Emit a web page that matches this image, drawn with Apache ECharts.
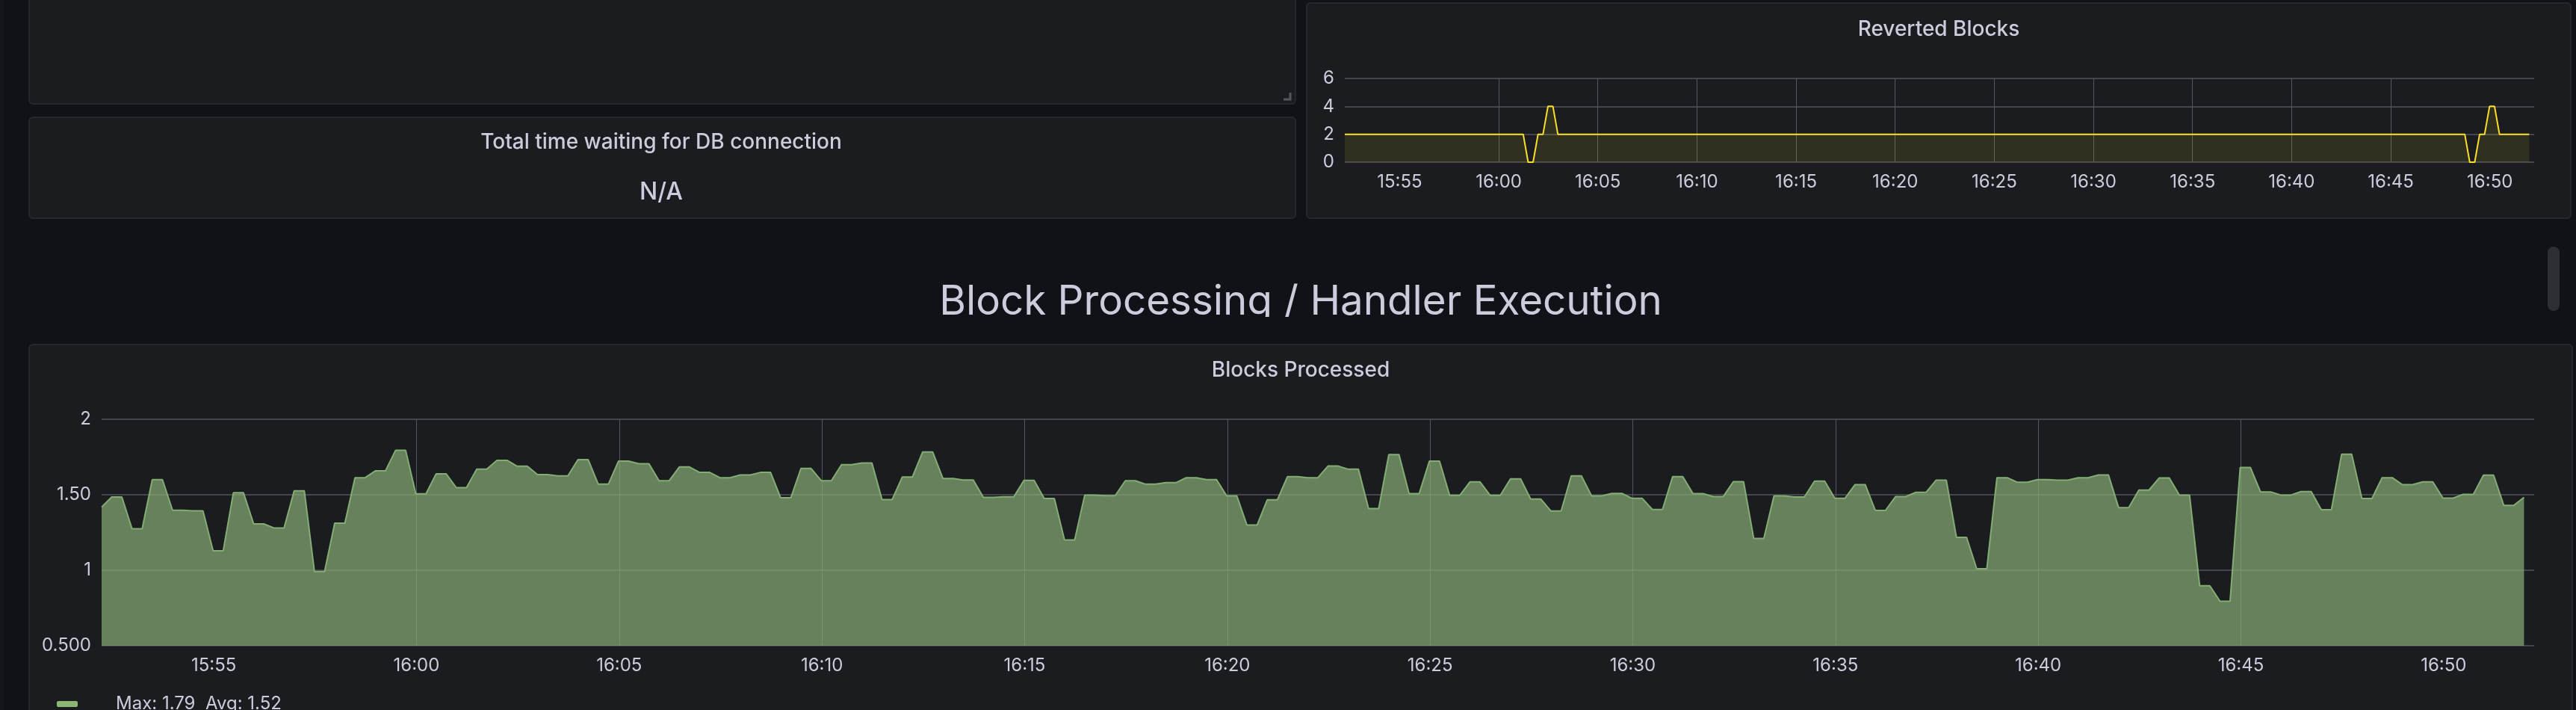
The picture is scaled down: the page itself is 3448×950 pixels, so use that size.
<!DOCTYPE html>
<html>
<head>
<meta charset="utf-8">
<title>Block Processing</title>
<script src="https://cdn.jsdelivr.net/npm/echarts@6/dist/echarts.min.js"></script>
<style>
html, body { margin: 0; padding: 0; background: #111217; overflow: hidden; }
#main { width: 3448px; height: 950px; }
</style>
</head>
<body>
<div id="main"></div>
<script>
// 15s samples over the last hour
var sectionTitle = 'Block Processing / Handler Execution';
var revertedTitle = 'Reverted Blocks';
var waitTitle = 'Total time waiting for DB connection';
var waitValue = 'N/A';
var processedTitle = 'Blocks Processed';
var processedLegend = 'Max: 1.79  Avg: 1.52';

var revertedValues = [
  2,2,2,2,2,2,2,2,2,2,2,2,2,2,2,2,2,2,2,2,
  2,2,2,2,2,2,2,2,2,2,2,2,2,2,2,2,2,0,0,2,
  2,4,4,2,2,2,2,2,2,2,2,2,2,2,2,2,2,2,2,2,
  2,2,2,2,2,2,2,2,2,2,2,2,2,2,2,2,2,2,2,2,
  2,2,2,2,2,2,2,2,2,2,2,2,2,2,2,2,2,2,2,2,
  2,2,2,2,2,2,2,2,2,2,2,2,2,2,2,2,2,2,2,2,
  2,2,2,2,2,2,2,2,2,2,2,2,2,2,2,2,2,2,2,2,
  2,2,2,2,2,2,2,2,2,2,2,2,2,2,2,2,2,2,2,2,
  2,2,2,2,2,2,2,2,2,2,2,2,2,2,2,2,2,2,2,2,
  2,2,2,2,2,2,2,2,2,2,2,2,2,2,2,2,2,2,2,2,
  2,2,2,2,2,2,2,2,2,2,2,2,2,2,2,2,2,2,2,2,
  2,2,2,2,2,2,2,0,0,2,2,4,4,2,2,2,2,2,2,2
];

var processedValues = [
  1.419,
  1.485,1.485, 1.275,1.275, 1.600,1.600, 1.397,1.397, 1.394,1.394,
  1.129,1.129, 1.513,1.513, 1.307,1.307, 1.280,1.280, 1.526,1.526,
  0.991,0.991, 1.312,1.312, 1.613,1.613, 1.658,1.658, 1.794,1.794,
  1.506,1.506, 1.638,1.638, 1.547,1.547, 1.669,1.669, 1.728,1.728,
  1.689,1.689, 1.634,1.634, 1.625,1.625, 1.733,1.733, 1.570,1.570,
  1.723,1.723, 1.705,1.705, 1.593,1.593, 1.684,1.684, 1.648,1.648,
  1.613,1.613, 1.631,1.631, 1.648,1.648, 1.480,1.480, 1.674,1.674,
  1.593,1.593, 1.699,1.699, 1.710,1.710, 1.468,1.468, 1.618,1.618,
  1.783,1.783, 1.608,1.608, 1.598,1.598, 1.483,1.483, 1.486,1.486,
  1.595,1.595, 1.475,1.475, 1.200,1.200, 1.498,1.498, 1.494,1.494,
  1.593,1.593, 1.570,1.570, 1.580,1.580, 1.613,1.613, 1.600,1.600,
  1.493,1.493, 1.299,1.299, 1.466,1.466, 1.620,1.620, 1.613,1.613,
  1.690,1.690, 1.669,1.669, 1.409,1.409, 1.766,1.766, 1.508,1.508,
  1.723,1.723, 1.496,1.496, 1.585,1.585, 1.496,1.496, 1.605,1.605,
  1.471,1.471, 1.392,1.392, 1.625,1.625, 1.493,1.493, 1.509,1.509,
  1.476,1.476, 1.402,1.402, 1.620,1.620, 1.508,1.508, 1.488,1.488,
  1.587,1.587, 1.211,1.211, 1.493,1.493, 1.485,1.485, 1.590,1.590,
  1.476,1.476, 1.567,1.567, 1.396,1.396, 1.488,1.488, 1.516,1.516,
  1.597,1.597, 1.218,1.218, 1.010,1.010, 1.613,1.613, 1.583,1.583,
  1.600,1.600, 1.597,1.597, 1.613,1.613, 1.631,1.631, 1.415,1.415,
  1.531,1.531, 1.611,1.611, 1.498,1.498, 0.897,0.897, 0.795,0.795,
  1.681,1.681, 1.519,1.519, 1.498,1.498, 1.521,1.521, 1.401,1.401,
  1.768,1.768, 1.475,1.475, 1.613,1.613, 1.567,1.567, 1.585,1.585,
  1.478,1.478, 1.503,1.503, 1.630,1.630, 1.430,1.430,
  1.483
];

var processedTickLabels = { 0.5: '0.500', 1: '1', 1.5: '1.50', 2: '2' };
var timeTickLabels = ['15:55','16:00','16:05','16:10','16:15','16:20','16:25','16:30','16:35','16:40','16:45','16:50'];

var at = function (hh, mm, ss) {
  return new Date(2023, 0, 1, hh, mm, ss).getTime();
};
var rangeStart = at(15, 52, 14);
var rangeEnd = rangeStart + 3600 * 1000;
var stepMs = 15000;

var timeTicks = timeTickLabels.map(function (label) {
  var parts = label.split(':');
  return at(+parts[0], +parts[1], 0);
});

var textColor = '#ccccdc';
var gridColor = '#45464b';
var vGridColor = '#55565b';
var panelBg = '#1a1c20';
var panelBorder = '#25272c';
var pageBg = '#111217';
var fontName = 'Inter';

var toPairs = function (values) {
  var res = [];
  for (var i = 0; i < values.length; i++) {
    res.push([rangeStart + i * stepMs, values[i]]);
  }
  return res;
};

var panel = function (x, y, w, h) {
  return {
    type: 'rect',
    z: -10,
    shape: { x: x, y: y, width: w, height: h, r: 5 },
    style: { fill: panelBg, stroke: panelBorder, lineWidth: 2 }
  };
};

// time axis ignores customValues here, so keep it as a plain value axis in ms
var makeXAxis = function (gridIndex) {
  return {
    type: 'value',
    gridIndex: gridIndex,
    min: rangeStart,
    max: rangeEnd,
    axisLine: { show: false },
    axisTick: { show: false, customValues: timeTicks },
    axisLabel: {
      color: textColor,
      fontFamily: fontName,
      fontSize: 24,
      margin: 15,
      customValues: timeTicks,
      hideOverlap: false,
      formatter: function (val) {
        return timeTickLabels[timeTicks.indexOf(val)];
      }
    },
    splitLine: {
      show: true,
      showMinLine: false,
      showMaxLine: false,
      lineStyle: { color: vGridColor, width: 1 }
    }
  };
};

var makeYAxis = function (gridIndex, min, max, interval, formatter) {
  return {
    type: 'value',
    gridIndex: gridIndex,
    min: min,
    max: max,
    interval: interval,
    axisLine: { show: false },
    axisTick: { show: false },
    axisLabel: {
      color: textColor,
      fontFamily: fontName,
      fontSize: 24,
      margin: 14,
      formatter: formatter
    },
    splitLine: { show: true, lineStyle: { color: gridColor, width: 2 } }
  };
};

var makeTitle = function (text, cx, top, size, weight) {
  return {
    text: text,
    left: cx,
    top: top,
    textAlign: 'center',
    padding: 0,
    textStyle: { color: textColor, fontFamily: fontName, fontSize: size, fontWeight: weight }
  };
};

var chart = echarts.init(document.getElementById('main'));

chart.setOption({
  animation: false,
  backgroundColor: pageBg,
  title: [
    makeTitle(revertedTitle, 2595, 26, 28, 500),
    makeTitle(waitTitle, 885, 177, 28, 500),
    makeTitle(waitValue, 885, 241, 32, 500),
    makeTitle(sectionTitle, 1741, 377, 54.7, 400),
    makeTitle(processedTitle, 1741, 482, 28, 500)
  ],
  grid: [
    { left: 1800, top: 105, width: 1592, height: 112, containLabel: false },
    { left: 136, top: 561, width: 3256, height: 303, containLabel: false }
  ],
  xAxis: [makeXAxis(0), makeXAxis(1)],
  yAxis: [
    makeYAxis(0, 0, 6, 2),
    makeYAxis(1, 0.5, 2, 0.5, function (val) { return processedTickLabels[val]; })
  ],
  legend: {
    show: true,
    left: 76,
    top: 930,
    padding: 0,
    icon: 'roundRect',
    itemWidth: 28,
    itemHeight: 8,
    data: [processedLegend],
    textStyle: {
      color: textColor,
      fontFamily: fontName,
      fontSize: 24,
      padding: [0, 0, 0, 46]
    }
  },
  series: [
    {
      name: revertedTitle,
      type: 'line',
      xAxisIndex: 0,
      yAxisIndex: 0,
      showSymbol: false,
      data: toPairs(revertedValues),
      lineStyle: { color: '#fade2a', width: 2 },
      itemStyle: { color: '#fade2a' },
      areaStyle: { color: '#fade2a', opacity: 0.1, origin: 'start' }
    },
    {
      name: processedLegend,
      type: 'line',
      xAxisIndex: 1,
      yAxisIndex: 1,
      showSymbol: false,
      data: toPairs(processedValues),
      lineStyle: { color: '#84ad73', width: 2 },
      itemStyle: { color: '#8ab872' },
      areaStyle: { color: '#89b077', opacity: 0.69, origin: 'start' }
    }
  ],
  graphic: [
    { type: 'rect', z: -11, shape: { x: 0, y: 0, width: 5, height: 950 }, style: { fill: '#16171b' } },
    panel(39, -20, 1695, 159),
    panel(39, 157, 1695, 135),
    panel(1749, 4, 1692, 288),
    panel(39, 461, 3404, 520),
    // resize handle
    {
      type: 'polyline',
      z: -5,
      shape: { points: [[1727, 124], [1727, 133], [1718, 133]] },
      style: { stroke: '#55565b', lineWidth: 3, fill: null }
    },
    // scrollbar
    {
      type: 'rect',
      z: -5,
      shape: { x: 3410, y: 330, width: 16, height: 86, r: 8 },
      style: { fill: '#2e2f34' }
    },
    // the row title is cut off by the panel row under it
    {
      type: 'rect',
      z: 100,
      shape: { x: 1200, y: 424, width: 1100, height: 35 },
      style: { fill: pageBg }
    }
  ]
});
</script>
</body>
</html>
